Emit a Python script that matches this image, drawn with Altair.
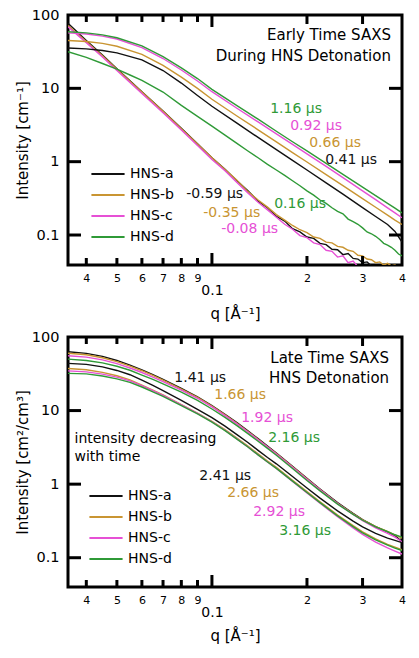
import math
import altair as alt
import pandas as pd

FONT = "DejaVu Sans"
SERIES = ["HNS-a", "HNS-b", "HNS-c", "HNS-d"]
COLORS = ["#111111", "#c99532", "#e650d5", "#2f9a37"]

# ---------- q grids ----------
Q_FINE = [0.035, 0.04, 0.045, 0.05, 0.055, 0.06, 0.07, 0.08, 0.09, 0.1,
          0.11, 0.12, 0.13, 0.14, 0.15, 0.16, 0.17, 0.18, 0.19, 0.2,
          0.21, 0.22, 0.23, 0.24, 0.25, 0.26, 0.27, 0.28, 0.29, 0.3,
          0.31, 0.32, 0.33, 0.34, 0.35, 0.36, 0.37, 0.38, 0.39, 0.4]
Q_SMOOTH = [0.035, 0.04, 0.045, 0.05, 0.06, 0.07, 0.08, 0.09, 0.1, 0.12, 0.14,
            0.16, 0.18, 0.2, 0.23, 0.26, 0.3, 0.33, 0.36, 0.38, 0.4]
Q_LATE = [0.035, 0.04, 0.045, 0.05, 0.055, 0.06, 0.065, 0.07, 0.08, 0.09, 0.1,
          0.11, 0.12, 0.13, 0.14, 0.15, 0.16, 0.18, 0.2, 0.22, 0.25, 0.28, 0.3,
          0.33, 0.36, 0.38, 0.4]

# ---------- early time (top panel) ----------
E_A_M059 = [77, 45, 28.5, 18.5, 12.7, 9.0, 4.9, 2.85, 1.75, 1.13,
            0.79, 0.55, 0.40, 0.29, 0.235, 0.18, 0.155, 0.122, 0.110, 0.094,
            0.090, 0.077, 0.074, 0.064, 0.063, 0.054, 0.056, 0.048, 0.047, 0.042,
            0.043, 0.038, 0.037, 0.036, 0.034, 0.035, 0.033, 0.032, 0.031, 0.030]
E_B_M035 = [72, 43.5, 27.8, 18.2, 12.5, 8.9, 4.85, 2.82, 1.74, 1.13,
            0.78, 0.56, 0.39, 0.30, 0.24, 0.19, 0.16, 0.135, 0.118, 0.108,
            0.094, 0.090, 0.080, 0.078, 0.070, 0.068, 0.062, 0.060, 0.053, 0.052,
            0.047, 0.046, 0.042, 0.043, 0.039, 0.041, 0.038, 0.039, 0.036, 0.035]
E_C_M008 = [69, 42, 26.8, 17.5, 12.0, 8.5, 4.65, 2.7, 1.66, 1.07,
            0.75, 0.52, 0.375, 0.28, 0.22, 0.175, 0.14, 0.12, 0.098, 0.092,
            0.078, 0.074, 0.062, 0.060, 0.050, 0.052, 0.042, 0.044, 0.037, 0.038,
            0.034, 0.035, 0.032, 0.033, 0.031, 0.031, 0.030, 0.030, 0.029, 0.029]
E_D_016 = [31.6, 26.5, 21.8, 18.3, 15.2, 12.8, 8.9, 5.85, 4.15, 3.05,
           2.3, 1.78, 1.40, 1.13, 0.92, 0.77, 0.65, 0.55, 0.47, 0.40,
           0.35, 0.30, 0.27, 0.235, 0.21, 0.195, 0.165, 0.152, 0.140, 0.125,
           0.110, 0.104, 0.096, 0.087, 0.077, 0.073, 0.068, 0.062, 0.055, 0.052]
E_A_041 = [35.5, 34.5, 32.8, 30.5, 24.5, 17.5, 11.8, 8.0, 5.7, 3.35, 2.14,
           1.46, 1.04, 0.77, 0.514, 0.361, 0.236, 0.179, 0.139, 0.112, 0.08]
E_B_066 = [45, 43.5, 41, 37.5, 29, 20.5, 14.2, 10.0, 7.1, 4.2, 2.72,
           1.86, 1.33, 0.99, 0.666, 0.471, 0.313, 0.239, 0.187, 0.160, 0.139]
E_C_092 = [57, 55, 51.5, 47, 36, 25.5, 17.8, 12.6, 9.0, 5.35, 3.48,
           2.4, 1.72, 1.28, 0.865, 0.605, 0.40, 0.303, 0.235, 0.2, 0.172]
E_D_116 = [59, 57, 53.5, 49, 38, 27, 19, 13.6, 9.7, 5.8, 3.8,
           2.6, 1.87, 1.4, 0.95, 0.67, 0.45, 0.345, 0.27, 0.232, 0.20]

EARLY_CURVES = [
    ("HNS-a", "-0.59", Q_FINE, E_A_M059),
    ("HNS-b", "-0.35", Q_FINE, E_B_M035),
    ("HNS-c", "-0.08", Q_FINE, E_C_M008),
    ("HNS-d", "0.16", Q_FINE, E_D_016),
    ("HNS-a", "0.41", Q_SMOOTH, E_A_041),
    ("HNS-b", "0.66", Q_SMOOTH, E_B_066),
    ("HNS-c", "0.92", Q_SMOOTH, E_C_092),
    ("HNS-d", "1.16", Q_SMOOTH, E_D_116),
]

# ---------- late time (bottom panel) ----------
L_A_141 = [63, 60, 54.5, 48, 41.5, 35.8, 30.8, 26.5, 20.0, 15.4, 11.7, 8.9, 6.85, 5.3,
           4.15, 3.3, 2.65, 1.75, 1.2, 0.86, 0.56, 0.40, 0.33, 0.265, 0.225, 0.2, 0.165]
L_B_166 = [60, 57.3, 52.3, 46.3, 40.3, 34.8, 30.0, 25.9, 19.6, 15.1, 11.5, 8.72, 6.71, 5.2,
           4.07, 3.23, 2.6, 1.72, 1.18, 0.845, 0.55, 0.395, 0.327, 0.265, 0.228, 0.205, 0.185]
L_C_192 = [55.5, 53.2, 48.8, 43.4, 37.9, 32.9, 28.5, 24.7, 18.9, 14.7, 11.2, 8.55, 6.6, 5.12,
           4.02, 3.2, 2.57, 1.7, 1.165, 0.835, 0.543, 0.388, 0.32, 0.255, 0.215, 0.19, 0.165]
L_D_216 = [50, 48, 44.5, 40, 35.3, 30.4, 26.5, 23.1, 17.8, 13.8, 10.5, 8.1, 6.25, 4.86,
           3.83, 3.06, 2.47, 1.63, 1.12, 0.81, 0.535, 0.388, 0.323, 0.262, 0.226, 0.205, 0.19]
L_A_241 = [43.8, 42.5, 39.2, 35.1, 30.7, 25.9, 22, 18.7, 13.8, 10.4, 8.0, 6.15, 4.72, 3.68,
           2.88, 2.3, 1.89, 1.27, 0.885, 0.645, 0.433, 0.315, 0.262, 0.214, 0.185, 0.172, 0.16]
L_B_266 = [37.4, 35.9, 33, 29.7, 26.1, 22.2, 19, 16.4, 12.05, 9.27, 7.16, 5.5, 4.22, 3.3,
           2.58, 2.06, 1.69, 1.13, 0.793, 0.577, 0.381, 0.273, 0.225, 0.18, 0.152, 0.139, 0.128]
L_C_292 = [34.6, 33.6, 31.3, 28.5, 25.4, 21.8, 18.7, 16.1, 12.0, 9.18, 7.05, 5.4, 4.12, 3.2,
           2.5, 2.0, 1.63, 1.09, 0.76, 0.55, 0.36, 0.255, 0.208, 0.163, 0.136, 0.123, 0.112]
L_D_316 = [32, 31.5, 29.5, 27, 24.2, 20.9, 18, 15.6, 11.7, 9.0, 6.95, 5.35, 4.1, 3.2,
           2.5, 2.0, 1.64, 1.1, 0.77, 0.56, 0.37, 0.265, 0.218, 0.175, 0.148, 0.135, 0.125]

LATE_CURVES = [
    ("HNS-a", "1.41", Q_LATE, L_A_141),
    ("HNS-b", "1.66", Q_LATE, L_B_166),
    ("HNS-c", "1.92", Q_LATE, L_C_192),
    ("HNS-d", "2.16", Q_LATE, L_D_216),
    ("HNS-a", "2.41", Q_LATE, L_A_241),
    ("HNS-b", "2.66", Q_LATE, L_B_266),
    ("HNS-c", "2.92", Q_LATE, L_C_292),
    ("HNS-d", "3.16", Q_LATE, L_D_316),
]

# ---------- annotations ----------
EARLY_LABELS = ["-0.59 μs", "-0.35 μs", "-0.08 μs", "0.16 μs",
                "0.41 μs", "0.66 μs", "0.92 μs", "1.16 μs"]
EARLY_LABEL_SERIES = ["HNS-a", "HNS-b", "HNS-c", "HNS-d", "HNS-a", "HNS-b", "HNS-c", "HNS-d"]
EARLY_LABEL_Q = [0.0829, 0.0939, 0.107, 0.1575, 0.2284, 0.2032, 0.1769, 0.1529]
EARLY_LABEL_I = [0.361, 0.199, 0.120, 0.264, 1.05, 1.79, 3.06, 5.22]

LATE_LABELS = ["1.41 μs", "1.66 μs", "1.92 μs", "2.16 μs",
               "2.41 μs", "2.66 μs", "2.92 μs", "3.16 μs"]
LATE_LABEL_SERIES = EARLY_LABEL_SERIES
LATE_LABEL_Q = [0.0760, 0.1017, 0.1238, 0.1507, 0.0912, 0.1118, 0.1351, 0.1633]
LATE_LABEL_I = [27.9, 16.2, 7.93, 4.23, 1.31, 0.751, 0.414, 0.233]

EARLY_HEAD = ["Early Time SAXS", "During HNS Detonation"]
EARLY_HEAD_Q = [0.369, 0.369]
EARLY_HEAD_I = [53.3, 27.6]
LATE_HEAD = ["Late Time SAXS", "HNS Detonation"]
LATE_HEAD_Q = [0.364, 0.364]
LATE_HEAD_I = [52.2, 27.6]
LATE_NOTE = ["intensity decreasing", "with time"]
LATE_NOTE_Q = [0.0367, 0.0367]
LATE_NOTE_I = [4.06, 2.33]

# tick positions
X_LABEL_TICKS = [0.04, 0.05, 0.06, 0.07, 0.08, 0.09, 0.1, 0.2, 0.3, 0.4]
X_TICKS_SHORT = [0.04, 0.05, 0.06, 0.07, 0.08, 0.09]
X_TICKS_MID = [0.2, 0.3]
X_TICKS_LONG = [0.1]
Y_TICKS = [0.1, 1, 10, 100]
Y_TICKS_INNER = [0.1, 1, 10]

QMIN, QMAX, IMAX = 0.035, 0.4, 100
W, H = 334, 250


def curves_frame(curves):
    rows = []
    for series, tag, qs, vals in curves:
        for q, v in zip(qs, vals):
            rows.append({"q": q, "I": v, "series": series, "curve": series + tag})
    return pd.DataFrame(rows)


def panel(curves, labels, label_series, label_q, label_i, heads, head_q, head_i,
          ytitle, ymin, legend_x, notes=None, note_q=None, note_i=None):
    xs = alt.Scale(type="log", domain=[QMIN, QMAX], nice=False)
    ys = alt.Scale(type="log", domain=[ymin, IMAX], nice=False)
    cs = alt.Scale(domain=SERIES, range=COLORS)
    is_01 = "datum.value == 0.1"
    xaxis = alt.Axis(
        values=X_LABEL_TICKS,
        labelExpr="datum.value == 0.1 ? '0.1' : (datum.value < 0.1 ? format(datum.value * 100, '.0f') : format(datum.value * 10, '.0f'))",
        ticks=False, domain=False, grid=False, labelOverlap=False, labelFlush=False,
        labelFont=FONT, labelColor="black",
        labelFontSize={"condition": {"test": is_01, "value": 14}, "value": 11},
        labelPadding={"condition": {"test": is_01, "value": 18}, "value": 7},
        title="q [Å⁻¹]", titleFont=FONT, titleFontSize=15, titleFontWeight="normal",
        titlePadding=9, titleColor="black")
    yaxis = alt.Axis(
        values=Y_TICKS, format="~g", ticks=False, domain=False, grid=False,
        labelFont=FONT, labelFontSize=14.5, labelPadding=9, labelColor="black",
        labelOverlap=False, labelFlush=False,
        title=ytitle, titleFont=FONT, titleFontSize=15, titleFontWeight="normal",
        titlePadding=1, titleColor="black")
    X = alt.X("q:Q", scale=xs, axis=xaxis)
    Y = alt.Y("I:Q", scale=ys, axis=yaxis)

    legend = alt.Legend(orient="none", legendX=legend_x, legendY=151, title=None,
                        symbolType="stroke", symbolSize=1100, symbolStrokeWidth=2,
                        clipHeight=16, rowPadding=5, labelFont=FONT, labelFontSize=14,
                        labelOffset=4, padding=0, labelColor="black")

    lines = alt.Chart(curves_frame(curves)).mark_line(strokeWidth=1.4, clip=True).encode(
        x=X, y=Y,
        color=alt.Color("series:N", scale=cs, legend=legend),
        detail="curve:N")

    # inward tick marks: short segments whose length (px) is converted to data units
    ppd_y = H / math.log10(IMAX / ymin)
    ppd_x = W / math.log10(QMAX / QMIN)

    def xticks(vals, length, top):
        f = f"pow(10, {length} / {ppd_y})"
        a, b = (f"{IMAX} / {f}", f"{IMAX}") if top else (f"{ymin}", f"{ymin} * {f}")
        return alt.Chart(pd.DataFrame({"q": vals})).transform_calculate(
            a=a, b=b).transform_fold(["a", "b"], as_=["end", "Iv"]).mark_line(
            strokeWidth=3, color="black", strokeCap="butt").encode(
            x=X, y=alt.Y("Iv:Q", scale=ys, axis=yaxis), detail="q:N")

    def yticks(left, length=13):
        f = f"pow(10, {length} / {ppd_x})"
        a, b = (f"{QMIN}", f"{QMIN} * {f}") if left else (f"{QMAX} / {f}", f"{QMAX}")
        return alt.Chart(pd.DataFrame({"I": Y_TICKS_INNER})).transform_calculate(
            a=a, b=b).transform_fold(["a", "b"], as_=["end", "qv"]).mark_line(
            strokeWidth=3, color="black", strokeCap="butt").encode(
            x=alt.X("qv:Q", scale=xs, axis=xaxis), y=Y, detail="I:N")

    tick_layers = []
    for top in (True, False):
        tick_layers += [xticks(X_TICKS_SHORT, 7, top), xticks(X_TICKS_MID, 9, top),
                        xticks(X_TICKS_LONG, 12, top)]
    tick_layers += [yticks(True), yticks(False)]

    lab_df = pd.DataFrame({"q": label_q, "I": label_i, "text": labels, "series": label_series})
    lab = alt.Chart(lab_df).mark_text(align="left", baseline="middle", font=FONT,
                                      fontSize=14).encode(
        x=X, y=Y, text="text:N", color=alt.Color("series:N", scale=cs, legend=None))

    head_df = pd.DataFrame({"q": head_q, "I": head_i, "text": heads})
    head = alt.Chart(head_df).mark_text(align="right", baseline="middle", font=FONT,
                                        fontSize=15, color="black").encode(
        x=X, y=Y, text="text:N")

    layers = [lines] + tick_layers + [lab, head]
    if notes:
        note_df = pd.DataFrame({"q": note_q, "I": note_i, "text": notes})
        layers.append(alt.Chart(note_df).mark_text(align="left", baseline="middle",
                                                   font=FONT, fontSize=14,
                                                   color="black").encode(
            x=X, y=Y, text="text:N"))
    return alt.layer(*layers).properties(width=W, height=H)


top = panel(EARLY_CURVES, EARLY_LABELS, EARLY_LABEL_SERIES, EARLY_LABEL_Q, EARLY_LABEL_I,
            EARLY_HEAD, EARLY_HEAD_Q, EARLY_HEAD_I, "Intensity [cm⁻¹]", 0.039, 22)
bottom = panel(LATE_CURVES, LATE_LABELS, LATE_LABEL_SERIES, LATE_LABEL_Q, LATE_LABEL_I,
               LATE_HEAD, LATE_HEAD_Q, LATE_HEAD_I, "Intensity [cm²/cm³]", 0.04, 20,
               LATE_NOTE, LATE_NOTE_Q, LATE_NOTE_I)

chart = alt.vconcat(top, bottom, spacing=4).resolve_legend(color="independent").configure_view(
    stroke="black", strokeWidth=3).properties(
    padding={"left": 5, "top": -3, "right": 0, "bottom": 5})

chart.save("out.html", embed_options={"renderer": "svg", "actions": False})
